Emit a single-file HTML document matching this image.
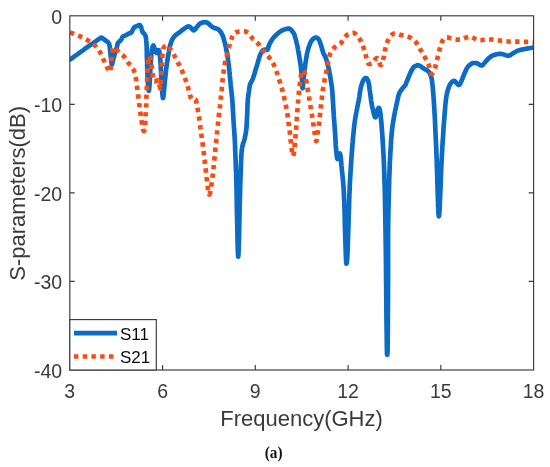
<!DOCTYPE html>
<html><head><meta charset="utf-8"><title>S-parameters</title>
<style>
html,body{margin:0;padding:0;background:#fff;}
body{width:550px;height:467px;overflow:hidden;}
svg{display:block;}
text{font-family:"Liberation Sans",Arial,sans-serif;fill:#3a3a3a;}
.tick{font-size:19.5px;}
.lab{font-size:22px;}
.leg{font-size:17px;} .leg text{fill:#0a0a0a;}
.cap{font-family:"Liberation Serif",serif;font-weight:bold;font-size:15px;fill:#111;}
</style></head><body>
<svg width="550" height="467" viewBox="0 0 550 467">
<rect width="550" height="467" fill="#fff"/>
<defs><clipPath id="c"><rect x="69.8" y="15.8" width="463.8" height="354.2"/></clipPath></defs>
<g clip-path="url(#c)" fill="none" stroke-linejoin="round">
<path d="M70.0,59.6 L71.8,58.3 L74.4,56.4 L77.3,54.4 L80.0,52.4 L82.6,50.6 L85.2,48.7 L87.7,46.9 L90.0,45.3 L92.1,43.9 L93.9,42.5 L95.6,41.4 L97.0,40.4 L98.1,39.6 L98.8,39.1 L99.4,38.7 L100.0,38.3 L100.5,38.0 L100.8,37.8 L101.2,37.6 L101.5,37.6 L101.9,37.7 L102.2,37.9 L102.6,38.2 L103.0,38.6 L103.5,39.0 L104.2,39.5 L104.8,40.0 L105.5,40.5 L106.2,41.0 L107.0,41.5 L107.7,42.0 L108.3,42.6 L108.7,43.1 L109.0,43.6 L109.2,44.2 L109.4,45.0 L109.6,46.0 L109.8,47.1 L109.9,48.5 L110.1,50.0 L110.3,51.9 L110.5,54.0 L110.7,56.1 L110.9,58.0 L111.1,59.5 L111.2,60.9 L111.4,62.1 L111.5,63.0 L111.6,63.7 L111.8,64.2 L111.9,64.4 L112.0,64.4 L112.1,64.1 L112.2,63.6 L112.4,62.9 L112.6,62.0 L112.9,60.8 L113.2,59.4 L113.6,57.9 L114.0,56.5 L114.4,55.2 L114.7,54.0 L115.1,52.7 L115.5,51.5 L115.9,50.2 L116.3,48.9 L116.7,47.6 L117.0,46.5 L117.2,45.5 L117.4,44.7 L117.6,43.9 L117.8,43.3 L118.1,42.8 L118.4,42.4 L118.7,42.1 L119.0,41.8 L119.3,41.5 L119.6,41.3 L119.9,41.1 L120.2,40.8 L120.5,40.4 L120.8,40.1 L121.1,39.6 L121.4,39.2 L121.6,38.7 L121.9,38.2 L122.1,37.7 L122.3,37.3 L122.5,37.0 L122.7,36.7 L122.9,36.5 L123.3,36.3 L123.8,36.1 L124.5,35.8 L125.2,35.6 L125.9,35.3 L126.6,34.9 L127.2,34.5 L127.9,34.1 L128.5,33.7 L129.2,33.4 L129.8,33.2 L130.5,33.1 L131.0,32.8 L131.4,32.5 L131.6,32.1 L131.8,31.7 L132.0,31.3 L132.2,31.0 L132.3,30.7 L132.5,30.3 L132.7,29.9 L133.1,29.3 L133.5,28.5 L133.9,27.8 L134.3,27.3 L134.6,27.0 L134.8,26.9 L135.0,26.8 L135.3,26.7 L135.6,26.6 L136.0,26.5 L136.4,26.4 L136.8,26.3 L137.1,26.1 L137.4,26.0 L137.7,25.8 L138.0,25.6 L138.3,25.4 L138.7,25.2 L139.1,25.0 L139.4,25.0 L139.7,25.1 L139.9,25.2 L140.2,25.5 L140.4,25.8 L140.6,26.1 L140.9,26.5 L141.1,27.0 L141.3,27.6 L141.5,28.5 L141.8,29.6 L142.1,30.7 L142.3,31.5 L142.5,32.0 L142.7,32.3 L142.9,32.5 L143.2,32.8 L143.5,33.1 L143.9,33.4 L144.2,33.7 L144.5,34.0 L144.7,34.3 L144.9,34.7 L145.1,35.0 L145.3,35.5 L145.5,36.0 L145.6,36.5 L145.8,37.1 L145.9,38.0 L146.1,39.2 L146.2,40.7 L146.4,42.3 L146.5,44.0 L146.6,45.5 L146.7,47.0 L146.7,49.0 L146.8,52.0 L146.9,56.7 L147.1,62.6 L147.2,68.7 L147.4,74.0 L147.6,78.3 L147.9,82.2 L148.1,85.5 L148.3,88.0 L148.5,89.6 L148.6,90.5 L148.8,90.8 L148.9,90.5 L149.1,89.8 L149.2,88.5 L149.4,86.6 L149.6,84.0 L149.8,80.2 L150.1,75.5 L150.3,70.5 L150.6,66.0 L150.8,62.0 L151.1,58.3 L151.3,54.9 L151.6,52.0 L151.9,49.7 L152.3,47.8 L152.7,46.4 L153.0,45.6 L153.3,45.4 L153.6,45.9 L153.9,46.7 L154.2,47.5 L154.5,48.4 L154.9,49.5 L155.2,50.6 L155.6,51.5 L155.9,52.2 L156.3,52.7 L156.7,53.0 L157.0,53.0 L157.4,52.4 L157.7,51.5 L158.1,50.5 L158.4,50.0 L158.7,50.0 L158.9,50.3 L159.2,51.0 L159.4,52.0 L159.6,53.3 L159.8,55.0 L160.1,57.2 L160.3,60.0 L160.6,63.8 L160.8,68.5 L161.1,73.4 L161.4,78.0 L161.7,82.4 L161.9,86.9 L162.2,90.9 L162.4,94.0 L162.6,96.1 L162.8,97.5 L162.9,98.2 L163.1,98.2 L163.3,97.5 L163.5,96.1 L163.7,94.2 L163.9,92.0 L164.1,89.4 L164.4,86.4 L164.7,83.1 L165.0,80.0 L165.3,76.9 L165.7,73.7 L166.0,70.6 L166.3,68.0 L166.6,65.9 L166.8,64.2 L167.0,62.7 L167.3,61.0 L167.6,59.2 L167.9,57.4 L168.2,55.5 L168.5,53.6 L168.9,51.6 L169.2,49.5 L169.6,47.4 L170.1,45.5 L170.7,43.7 L171.3,41.9 L171.9,40.3 L172.6,38.9 L173.3,37.8 L174.0,36.8 L174.7,36.0 L175.5,35.2 L176.4,34.4 L177.4,33.8 L178.5,33.1 L179.5,32.4 L180.5,31.6 L181.5,30.7 L182.6,29.9 L183.6,29.1 L184.7,28.4 L185.8,27.6 L186.8,27.0 L187.7,26.6 L188.3,26.4 L188.8,26.4 L189.1,26.5 L189.5,26.7 L189.9,26.9 L190.2,27.2 L190.6,27.5 L191.0,27.9 L191.6,28.5 L192.3,29.2 L192.9,29.9 L193.5,30.3 L193.9,30.4 L194.2,30.2 L194.5,29.9 L194.8,29.6 L195.1,29.4 L195.3,29.1 L195.5,28.8 L195.9,28.3 L196.4,27.6 L197.1,26.8 L197.8,25.9 L198.4,25.2 L198.8,24.7 L199.2,24.3 L199.5,23.9 L200.0,23.6 L200.6,23.2 L201.4,22.9 L202.2,22.6 L203.0,22.4 L203.8,22.3 L204.6,22.2 L205.4,22.2 L206.1,22.3 L206.8,22.5 L207.4,22.8 L207.9,23.1 L208.5,23.5 L209.0,24.0 L209.5,24.5 L210.0,25.0 L210.5,25.5 L211.0,25.9 L211.5,26.3 L212.0,26.7 L212.5,27.0 L213.0,27.3 L213.4,27.6 L213.9,27.8 L214.4,28.0 L214.9,28.2 L215.5,28.3 L216.0,28.5 L216.5,28.6 L217.0,28.7 L217.4,28.9 L217.8,29.1 L218.2,29.3 L218.7,29.6 L219.1,30.1 L219.6,30.5 L220.0,31.0 L220.4,31.5 L220.7,32.0 L221.1,32.5 L221.4,33.1 L221.8,33.8 L222.1,34.5 L222.5,35.2 L222.8,36.0 L223.1,36.7 L223.3,37.5 L223.6,38.3 L223.9,39.5 L224.3,41.1 L224.8,42.9 L225.3,44.9 L225.8,47.1 L226.3,49.5 L226.8,52.0 L227.3,54.7 L227.7,57.3 L228.1,60.0 L228.4,62.7 L228.7,65.3 L229.0,67.5 L229.2,69.1 L229.3,70.1 L229.4,71.3 L229.6,73.0 L229.8,75.5 L230.1,78.4 L230.4,81.6 L230.7,85.0 L231.1,88.4 L231.5,92.0 L231.9,95.8 L232.3,100.0 L232.6,104.6 L232.9,109.7 L233.2,114.9 L233.5,120.0 L233.8,125.1 L234.2,130.3 L234.5,135.4 L234.8,140.0 L235.0,143.9 L235.1,147.2 L235.2,150.7 L235.4,155.0 L235.6,160.3 L235.8,166.2 L236.1,172.8 L236.3,180.0 L236.5,188.2 L236.7,197.2 L236.8,206.4 L237.0,215.0 L237.2,223.3 L237.4,231.5 L237.5,238.9 L237.7,245.0 L237.8,249.8 L238.0,253.5 L238.1,255.8 L238.2,256.7 L238.3,256.0 L238.5,253.8 L238.6,250.1 L238.8,245.0 L239.0,237.9 L239.2,229.0 L239.4,219.3 L239.6,210.0 L239.8,201.0 L240.1,191.8 L240.3,182.9 L240.6,175.0 L240.8,168.1 L241.1,161.8 L241.3,156.4 L241.6,152.0 L241.9,148.9 L242.3,146.9 L242.6,145.4 L243.0,144.0 L243.4,142.6 L243.8,141.6 L244.2,140.5 L244.6,139.0 L245.0,137.1 L245.4,134.9 L245.9,132.6 L246.2,130.0 L246.5,127.3 L246.7,124.5 L246.8,121.4 L247.0,118.0 L247.2,114.0 L247.4,109.5 L247.5,105.2 L247.7,101.8 L247.8,99.7 L247.9,98.5 L248.1,97.6 L248.2,96.4 L248.4,94.8 L248.6,93.2 L248.9,91.6 L249.1,90.0 L249.3,88.5 L249.5,87.1 L249.7,85.8 L250.0,84.5 L250.5,83.3 L251.1,82.3 L251.7,81.2 L252.3,80.0 L252.9,78.5 L253.4,76.9 L254.0,75.2 L254.5,73.6 L255.0,72.0 L255.4,70.5 L255.9,68.9 L256.4,67.3 L257.0,65.5 L257.5,63.5 L258.1,61.6 L258.6,60.0 L258.9,58.8 L259.1,57.9 L259.3,57.0 L259.7,56.0 L260.3,54.7 L261.0,53.3 L261.7,51.9 L262.3,50.9 L262.8,50.3 L263.2,50.1 L263.6,50.0 L264.0,49.9 L264.4,49.8 L264.7,49.7 L265.1,49.6 L265.5,49.6 L266.0,49.7 L266.5,49.8 L267.0,49.9 L267.4,49.8 L267.7,49.4 L267.9,48.8 L268.1,48.2 L268.3,47.5 L268.5,46.9 L268.6,46.2 L268.9,45.5 L269.3,44.5 L270.0,43.1 L270.9,41.5 L272.0,39.8 L273.1,38.2 L274.3,36.8 L275.6,35.5 L276.9,34.2 L278.2,33.1 L279.5,32.1 L280.8,31.3 L282.0,30.5 L283.3,29.9 L284.6,29.4 L286.0,29.0 L287.3,28.7 L288.4,28.6 L289.1,28.6 L289.7,28.8 L290.1,29.0 L290.5,29.3 L291.0,29.7 L291.4,30.1 L291.8,30.6 L292.2,31.2 L292.7,31.8 L293.1,32.4 L293.6,33.0 L294.0,33.8 L294.4,34.7 L294.7,35.6 L295.0,36.7 L295.4,38.0 L295.8,39.5 L296.3,41.3 L296.7,43.2 L297.2,45.3 L297.7,47.6 L298.1,50.1 L298.6,52.7 L299.1,55.5 L299.6,58.6 L300.1,61.9 L300.6,65.2 L301.0,68.2 L301.3,70.9 L301.5,73.5 L301.7,75.8 L301.9,78.0 L302.0,80.0 L302.1,81.9 L302.2,83.6 L302.3,85.0 L302.4,86.2 L302.4,87.2 L302.5,87.9 L302.6,88.2 L302.7,87.9 L302.8,87.2 L302.9,86.1 L303.0,85.0 L303.1,83.8 L303.2,82.5 L303.4,80.9 L303.6,79.0 L303.8,76.7 L304.1,74.0 L304.4,71.1 L304.8,68.2 L305.2,65.0 L305.7,61.6 L306.2,58.3 L306.7,55.5 L307.1,53.4 L307.5,51.8 L307.8,50.4 L308.2,49.0 L308.6,47.6 L309.0,46.3 L309.5,45.1 L309.9,44.0 L310.3,43.0 L310.7,42.2 L311.1,41.5 L311.5,40.8 L311.9,40.2 L312.3,39.7 L312.7,39.3 L313.1,38.9 L313.5,38.6 L313.9,38.3 L314.3,38.1 L314.7,37.9 L315.1,37.7 L315.5,37.6 L315.9,37.6 L316.3,37.6 L316.7,37.7 L317.2,37.9 L317.6,38.2 L318.0,38.6 L318.4,39.0 L318.7,39.4 L319.1,40.0 L319.5,40.8 L319.9,42.0 L320.4,43.4 L320.9,44.9 L321.4,46.5 L321.9,48.1 L322.3,49.7 L322.8,51.4 L323.3,52.9 L323.9,54.2 L324.6,55.4 L325.2,56.7 L325.8,58.0 L326.3,59.5 L326.8,61.0 L327.2,62.6 L327.7,64.4 L328.2,66.5 L328.7,68.8 L329.2,71.1 L329.6,73.3 L330.0,75.3 L330.3,77.1 L330.6,78.9 L330.9,80.9 L331.2,83.0 L331.6,85.2 L331.9,87.5 L332.2,90.0 L332.4,92.7 L332.6,95.7 L332.8,98.8 L333.0,102.0 L333.2,105.3 L333.4,108.8 L333.6,112.3 L333.8,116.0 L334.1,119.9 L334.4,123.9 L334.7,128.0 L335.0,132.0 L335.3,136.1 L335.5,140.3 L335.7,144.4 L336.0,148.0 L336.3,151.3 L336.6,154.3 L336.9,156.8 L337.2,158.5 L337.5,159.0 L337.8,158.6 L338.2,157.8 L338.5,157.0 L338.8,156.1 L339.2,154.9 L339.5,153.9 L339.8,153.5 L340.1,153.9 L340.3,154.9 L340.6,156.3 L340.8,158.0 L341.0,160.0 L341.2,162.5 L341.4,165.2 L341.7,168.0 L342.0,170.9 L342.3,174.1 L342.7,177.4 L343.0,181.0 L343.3,184.5 L343.6,188.0 L343.8,192.2 L344.1,198.0 L344.4,206.2 L344.7,216.1 L344.9,226.3 L345.2,235.0 L345.4,242.1 L345.6,248.5 L345.8,253.8 L346.0,258.0 L346.1,261.0 L346.2,262.8 L346.4,263.7 L346.5,263.7 L346.7,263.0 L346.9,261.6 L347.2,259.0 L347.4,255.0 L347.7,249.1 L347.9,241.5 L348.2,233.2 L348.5,225.0 L348.7,216.8 L349.0,208.3 L349.2,199.9 L349.5,192.0 L349.8,184.6 L350.2,177.5 L350.6,170.9 L351.0,165.0 L351.3,159.9 L351.6,155.6 L351.9,151.7 L352.2,148.0 L352.4,144.7 L352.7,141.9 L352.9,139.2 L353.2,136.0 L353.6,132.2 L354.0,127.9 L354.5,123.7 L355.0,120.0 L355.5,116.9 L356.0,114.1 L356.5,111.6 L357.0,109.0 L357.5,106.4 L358.0,103.9 L358.5,101.5 L359.0,99.0 L359.4,96.5 L359.7,93.9 L360.1,91.4 L360.5,89.0 L361.0,86.7 L361.7,84.6 L362.3,82.6 L363.0,81.0 L363.7,79.7 L364.5,78.8 L365.3,78.1 L366.0,78.0 L366.7,78.4 L367.3,79.2 L367.9,80.4 L368.4,82.0 L368.9,84.1 L369.3,86.6 L369.6,89.3 L370.0,92.0 L370.4,94.8 L370.8,97.7 L371.1,100.5 L371.5,103.0 L371.9,105.1 L372.2,106.8 L372.6,108.4 L373.0,110.0 L373.4,111.7 L373.8,113.4 L374.1,114.9 L374.5,116.0 L374.8,116.7 L375.2,117.2 L375.5,117.3 L375.8,117.0 L376.1,116.1 L376.4,114.8 L376.7,113.3 L377.0,112.0 L377.4,110.8 L377.7,109.6 L378.1,108.6 L378.5,108.0 L378.8,107.9 L379.2,108.2 L379.5,108.9 L379.8,110.0 L380.1,111.5 L380.4,113.4 L380.7,115.9 L381.0,119.0 L381.4,122.8 L381.7,127.3 L382.1,132.4 L382.5,138.0 L382.9,144.2 L383.3,151.1 L383.7,158.4 L384.0,166.0 L384.3,173.7 L384.5,181.6 L384.8,190.2 L385.0,200.0 L385.2,211.1 L385.4,223.4 L385.6,236.4 L385.8,250.0 L386.0,264.8 L386.1,280.6 L386.3,296.2 L386.4,310.0 L386.5,322.2 L386.7,333.5 L386.8,343.0 L386.9,350.0 L387.0,353.8 L387.1,354.9 L387.1,354.6 L387.2,354.1 L387.3,354.3 L387.4,354.3 L387.5,352.7 L387.6,348.0 L387.7,338.8 L387.8,326.1 L387.9,312.4 L388.0,300.0 L388.0,289.3 L388.1,279.2 L388.1,269.5 L388.1,260.0 L388.1,251.0 L388.1,242.4 L388.1,233.7 L388.2,224.0 L388.4,212.5 L388.7,199.8 L389.0,187.5 L389.3,177.0 L389.6,169.1 L389.8,162.9 L390.1,157.5 L390.4,152.0 L390.8,146.1 L391.1,140.2 L391.6,134.8 L392.0,130.0 L392.5,126.0 L393.0,122.8 L393.5,119.8 L394.0,117.0 L394.5,114.2 L395.0,111.6 L395.5,109.2 L396.0,107.0 L396.4,105.0 L396.8,103.2 L397.1,101.6 L397.5,100.0 L397.8,98.4 L398.2,96.9 L398.5,95.4 L399.0,94.0 L399.6,92.6 L400.4,91.3 L401.2,90.1 L402.0,89.0 L402.8,88.0 L403.6,87.2 L404.3,86.4 L405.0,85.5 L405.6,84.5 L406.1,83.3 L406.5,82.2 L407.0,81.0 L407.5,79.9 L407.9,78.7 L408.4,77.5 L409.0,76.0 L409.9,74.1 L410.9,71.8 L412.0,69.7 L413.0,68.0 L413.8,67.0 L414.6,66.4 L415.3,66.1 L416.0,65.8 L416.6,65.5 L417.0,65.3 L417.5,65.2 L418.0,65.2 L418.6,65.3 L419.2,65.6 L419.9,65.9 L420.5,66.2 L421.1,66.6 L421.7,67.1 L422.3,67.5 L423.0,68.0 L423.7,68.5 L424.5,68.9 L425.3,69.4 L426.0,69.8 L426.7,70.2 L427.3,70.5 L427.9,71.0 L428.5,71.5 L429.0,72.2 L429.6,73.0 L430.0,73.9 L430.5,75.0 L430.9,76.2 L431.3,77.4 L431.7,78.9 L432.0,81.0 L432.3,83.6 L432.7,86.8 L433.0,90.2 L433.3,94.0 L433.6,98.0 L433.9,102.4 L434.2,107.0 L434.5,112.0 L434.8,117.4 L435.1,123.1 L435.3,129.0 L435.6,135.0 L435.9,141.0 L436.2,147.1 L436.4,153.4 L436.7,160.0 L436.9,167.4 L437.2,175.3 L437.4,183.1 L437.6,190.0 L437.8,196.0 L438.0,201.5 L438.1,206.2 L438.3,210.0 L438.4,212.8 L438.6,214.7 L438.7,215.8 L438.8,216.3 L438.9,216.3 L439.1,215.8 L439.2,214.4 L439.4,212.0 L439.6,208.3 L439.8,203.4 L440.1,197.9 L440.3,192.0 L440.6,185.7 L440.8,178.8 L441.1,171.8 L441.4,165.0 L441.7,158.5 L442.1,152.2 L442.4,146.0 L442.8,140.0 L443.2,134.2 L443.5,128.5 L443.9,123.1 L444.3,118.0 L444.7,113.2 L445.1,108.7 L445.4,104.6 L445.8,101.0 L446.1,98.2 L446.5,95.9 L446.8,94.0 L447.3,92.0 L447.9,89.9 L448.6,87.9 L449.3,86.0 L450.0,84.5 L450.7,83.4 L451.3,82.6 L451.9,82.0 L452.5,81.5 L453.0,81.1 L453.5,80.9 L454.0,80.9 L454.5,81.0 L455.1,81.4 L455.8,82.1 L456.4,82.9 L457.0,83.5 L457.5,84.1 L458.0,84.6 L458.5,85.0 L459.0,85.0 L459.5,84.6 L460.0,83.9 L460.5,83.0 L461.0,82.0 L461.5,81.0 L461.9,79.9 L462.4,78.6 L463.0,77.0 L463.9,74.9 L464.9,72.4 L466.0,70.0 L467.0,68.0 L468.0,66.6 L469.1,65.5 L470.1,64.7 L471.0,64.0 L471.8,63.5 L472.6,63.2 L473.3,63.1 L474.0,63.0 L474.8,63.0 L475.5,63.0 L476.2,63.1 L477.0,63.3 L477.8,63.7 L478.6,64.1 L479.3,64.6 L480.0,65.0 L480.6,65.2 L481.1,65.4 L481.5,65.5 L482.0,65.4 L482.5,65.1 L482.9,64.8 L483.4,64.2 L484.0,63.5 L484.9,62.5 L485.9,61.3 L487.0,60.0 L488.0,59.0 L488.8,58.2 L489.6,57.6 L490.3,57.0 L491.0,56.5 L491.7,56.0 L492.4,55.7 L493.2,55.3 L494.0,55.0 L494.9,54.7 L495.9,54.4 L497.0,54.2 L498.0,54.0 L499.0,53.9 L500.0,53.9 L501.0,53.9 L502.0,54.0 L503.0,54.3 L504.1,54.6 L505.1,55.0 L506.0,55.3 L506.8,55.5 L507.6,55.6 L508.3,55.7 L509.0,55.6 L509.7,55.4 L510.4,55.0 L511.1,54.5 L512.0,54.0 L513.1,53.3 L514.4,52.5 L515.8,51.7 L517.0,51.0 L518.1,50.6 L519.1,50.3 L520.0,50.0 L521.0,49.8 L522.0,49.6 L523.0,49.4 L524.0,49.2 L525.0,49.0 L526.0,48.8 L526.9,48.6 L527.9,48.4 L529.0,48.2 L530.3,48.0 L531.8,47.8 L533.1,47.5 L534.0,47.4" stroke="#0c6cc5" stroke-width="4.7" stroke-linecap="round"/>
<path d="M70.0,32.3 L71.4,32.9 L73.5,33.7 L75.8,34.6 L78.0,35.5 L80.1,36.4 L82.2,37.5 L84.2,38.5 L86.0,39.4 L87.5,40.2 L88.8,40.9 L89.9,41.6 L91.0,42.3 L92.1,43.1 L93.1,43.9 L94.1,44.7 L95.0,45.5 L95.8,46.3 L96.6,47.2 L97.3,48.1 L98.0,49.0 L98.7,49.9 L99.3,50.9 L99.9,51.9 L100.5,53.0 L101.1,54.3 L101.8,55.7 L102.4,57.1 L103.0,58.5 L103.6,59.9 L104.3,61.3 L104.9,62.7 L105.5,64.0 L106.1,65.2 L106.6,66.4 L107.1,67.5 L107.6,68.5 L108.1,69.6 L108.5,70.7 L108.9,71.5 L109.3,72.0 L109.6,71.9 L109.9,71.5 L110.1,70.8 L110.3,70.0 L110.5,69.2 L110.6,68.3 L110.8,67.3 L110.9,66.0 L111.1,64.5 L111.2,62.7 L111.4,60.8 L111.6,59.0 L111.8,57.2 L112.0,55.4 L112.2,53.6 L112.4,52.0 L112.6,50.5 L112.9,49.1 L113.2,48.0 L113.5,47.3 L113.9,47.1 L114.3,47.4 L114.9,47.9 L115.5,48.5 L116.3,49.3 L117.2,50.3 L118.2,51.4 L119.3,52.5 L120.4,53.4 L121.6,54.4 L122.8,55.3 L124.0,56.5 L125.1,58.0 L126.2,59.6 L127.3,61.3 L128.3,62.8 L129.2,64.0 L130.0,65.0 L130.8,66.0 L131.5,67.0 L132.2,68.0 L132.9,68.9 L133.5,69.9 L134.0,71.0 L134.5,72.3 L134.9,73.6 L135.2,75.2 L135.6,77.0 L136.0,79.2 L136.3,81.7 L136.6,84.3 L137.0,87.0 L137.4,89.7 L137.7,92.4 L138.1,95.2 L138.5,98.0 L138.9,101.0 L139.2,104.0 L139.6,107.0 L140.0,110.0 L140.4,112.9 L140.8,115.8 L141.1,118.5 L141.5,121.0 L141.9,123.4 L142.3,125.6 L142.7,127.5 L143.0,129.0 L143.3,130.1 L143.5,130.8 L143.8,131.1 L144.0,131.0 L144.3,130.5 L144.5,129.5 L144.8,128.0 L145.0,126.0 L145.2,123.2 L145.4,119.8 L145.6,115.9 L145.8,112.0 L146.0,108.0 L146.2,103.7 L146.3,99.3 L146.5,95.0 L146.7,90.7 L146.8,86.3 L147.0,82.0 L147.2,78.0 L147.4,74.1 L147.6,70.4 L147.8,67.0 L148.0,64.0 L148.2,61.5 L148.5,59.3 L148.7,57.7 L149.0,56.5 L149.2,55.9 L149.5,55.9 L149.7,56.3 L150.0,57.0 L150.3,58.0 L150.6,59.5 L150.9,61.2 L151.2,63.0 L151.5,65.1 L151.8,67.4 L152.1,69.8 L152.4,72.0 L152.6,74.2 L152.8,76.5 L153.1,78.5 L153.3,80.0 L153.5,80.9 L153.8,81.3 L154.1,81.5 L154.5,81.5 L155.0,81.4 L155.7,81.1 L156.4,80.7 L157.0,80.5 L157.6,80.4 L158.1,80.3 L158.6,80.5 L159.0,81.0 L159.3,82.2 L159.5,84.0 L159.6,85.7 L159.8,87.0 L160.0,87.8 L160.1,88.4 L160.3,88.5 L160.4,88.0 L160.5,86.7 L160.7,84.8 L160.8,82.5 L161.0,80.0 L161.2,77.3 L161.3,74.2 L161.5,71.1 L161.7,68.0 L161.8,64.9 L162.0,61.7 L162.1,58.7 L162.3,56.0 L162.5,53.7 L162.7,51.7 L163.0,49.9 L163.3,48.5 L163.8,47.4 L164.3,46.7 L164.9,46.2 L165.5,45.8 L166.1,45.5 L166.7,45.3 L167.4,45.3 L168.0,45.6 L168.6,46.2 L169.2,47.0 L169.9,48.0 L170.5,49.0 L171.1,49.9 L171.7,50.7 L172.3,51.7 L173.0,53.0 L173.9,54.7 L174.9,56.8 L176.0,58.9 L177.0,61.0 L178.0,62.9 L179.1,64.8 L180.1,66.7 L181.0,68.5 L181.8,70.3 L182.5,72.0 L183.2,73.7 L183.9,75.5 L184.6,77.5 L185.4,79.5 L186.1,81.6 L186.8,83.6 L187.5,85.7 L188.1,87.8 L188.7,89.9 L189.2,91.6 L189.6,93.0 L189.9,94.1 L190.1,95.1 L190.4,96.0 L190.6,96.9 L190.8,97.6 L191.0,98.3 L191.3,98.8 L191.8,99.2 L192.3,99.5 L192.9,99.7 L193.5,99.8 L194.1,99.8 L194.6,99.6 L195.2,99.5 L195.6,99.6 L195.9,100.1 L196.1,100.7 L196.2,101.5 L196.4,102.5 L196.6,103.5 L196.8,104.7 L197.0,106.0 L197.3,107.6 L197.7,109.5 L198.1,111.7 L198.5,114.0 L198.9,116.2 L199.2,118.2 L199.4,120.3 L199.7,122.2 L199.9,124.2 L200.2,126.1 L200.4,128.0 L200.7,130.0 L201.0,132.0 L201.3,134.0 L201.6,136.1 L201.9,138.4 L202.3,141.0 L202.7,144.2 L203.1,147.8 L203.6,151.5 L204.0,155.0 L204.4,158.3 L204.8,161.6 L205.1,164.8 L205.5,168.0 L205.9,171.3 L206.3,174.7 L206.6,178.0 L207.0,181.0 L207.3,183.7 L207.7,186.3 L208.0,188.6 L208.3,190.5 L208.6,192.1 L208.8,193.4 L209.0,194.3 L209.3,194.6 L209.6,194.3 L209.9,193.4 L210.2,192.1 L210.5,190.5 L210.9,188.5 L211.2,186.2 L211.6,183.6 L212.0,181.0 L212.3,178.4 L212.7,175.7 L213.0,172.9 L213.3,170.0 L213.6,166.9 L213.9,163.7 L214.3,160.4 L214.6,157.0 L214.9,153.6 L215.3,150.1 L215.6,146.5 L216.0,143.0 L216.3,139.5 L216.7,135.9 L217.1,132.4 L217.4,129.0 L217.8,125.7 L218.1,122.4 L218.5,119.2 L218.8,116.0 L219.2,112.9 L219.5,109.9 L219.9,107.0 L220.2,104.0 L220.5,101.0 L220.8,97.9 L221.1,94.9 L221.4,92.0 L221.7,89.3 L221.9,86.8 L222.2,84.3 L222.4,82.0 L222.6,79.8 L222.9,77.6 L223.1,75.6 L223.4,73.5 L223.6,71.5 L223.9,69.5 L224.2,67.5 L224.5,65.5 L224.9,63.5 L225.4,61.4 L226.0,59.4 L226.5,57.3 L227.0,55.2 L227.4,53.2 L227.9,51.1 L228.4,49.0 L229.0,46.8 L229.7,44.6 L230.3,42.5 L230.9,40.7 L231.4,39.2 L231.8,38.0 L232.1,37.0 L232.5,36.0 L232.9,35.2 L233.2,34.4 L233.6,33.8 L234.1,33.3 L234.7,32.9 L235.4,32.5 L236.2,32.2 L237.0,32.0 L237.8,31.8 L238.7,31.6 L239.6,31.5 L240.5,31.4 L241.4,31.3 L242.3,31.3 L243.2,31.3 L244.0,31.3 L244.7,31.4 L245.3,31.4 L245.9,31.6 L246.5,31.9 L247.2,32.4 L248.0,33.0 L248.8,33.7 L249.5,34.5 L250.1,35.3 L250.8,36.2 L251.4,37.2 L252.0,38.0 L252.7,38.7 L253.5,39.4 L254.2,40.0 L255.0,40.7 L255.8,41.4 L256.5,42.0 L257.2,42.7 L258.0,43.5 L258.8,44.5 L259.5,45.7 L260.2,46.9 L261.0,48.0 L261.7,48.9 L262.4,49.8 L263.2,50.6 L264.0,51.5 L265.0,52.6 L266.0,53.7 L267.0,54.9 L268.0,56.0 L268.8,57.0 L269.6,58.0 L270.3,59.0 L271.0,60.0 L271.7,61.0 L272.3,61.9 L272.9,62.9 L273.5,64.0 L274.1,65.3 L274.7,66.7 L275.3,68.2 L276.0,70.0 L276.7,72.1 L277.5,74.3 L278.3,76.7 L279.0,79.0 L279.7,81.2 L280.3,83.3 L281.0,85.4 L281.6,87.5 L282.2,89.6 L282.8,91.8 L283.3,93.9 L283.8,96.0 L284.3,98.0 L284.7,100.0 L285.2,101.9 L285.6,104.0 L286.0,106.2 L286.4,108.4 L286.8,110.7 L287.2,113.0 L287.6,115.4 L287.9,117.9 L288.3,120.4 L288.6,123.0 L289.0,125.7 L289.3,128.4 L289.7,131.2 L290.0,134.0 L290.3,136.8 L290.6,139.7 L290.9,142.5 L291.2,145.0 L291.5,147.3 L291.8,149.5 L292.0,151.4 L292.3,153.0 L292.5,154.3 L292.8,155.4 L293.0,156.0 L293.2,156.0 L293.4,155.2 L293.7,153.8 L293.9,152.0 L294.2,150.0 L294.5,147.8 L294.7,145.2 L295.0,142.6 L295.2,140.0 L295.4,137.5 L295.6,135.1 L295.8,132.6 L296.0,130.0 L296.2,127.3 L296.4,124.6 L296.6,121.8 L296.8,119.0 L297.0,116.2 L297.2,113.5 L297.4,110.8 L297.6,108.0 L297.8,105.2 L298.0,102.4 L298.3,99.7 L298.5,97.0 L298.7,94.4 L299.0,91.9 L299.2,89.4 L299.5,87.0 L299.8,84.6 L300.0,82.3 L300.3,80.1 L300.6,78.0 L300.9,75.9 L301.3,73.9 L301.6,72.2 L302.0,71.0 L302.4,70.4 L302.7,70.3 L303.1,70.6 L303.5,71.0 L303.9,71.5 L304.2,72.3 L304.6,73.3 L305.0,74.5 L305.4,76.1 L305.8,77.9 L306.1,79.9 L306.5,82.0 L306.9,84.1 L307.2,86.4 L307.6,88.7 L308.0,91.0 L308.4,93.2 L308.8,95.5 L309.1,97.8 L309.5,100.0 L309.9,102.2 L310.3,104.5 L310.6,106.8 L311.0,109.0 L311.4,111.2 L311.7,113.5 L312.1,115.8 L312.4,118.0 L312.8,120.3 L313.1,122.6 L313.5,124.8 L313.8,127.0 L314.1,129.1 L314.4,131.2 L314.7,133.2 L315.0,135.0 L315.3,136.8 L315.5,138.6 L315.8,140.1 L316.0,141.0 L316.2,141.2 L316.4,140.9 L316.7,140.1 L316.9,139.0 L317.2,137.4 L317.4,135.4 L317.7,133.2 L318.0,131.0 L318.3,128.8 L318.6,126.6 L318.9,124.3 L319.2,122.0 L319.5,119.6 L319.8,117.1 L320.0,114.5 L320.3,112.0 L320.6,109.5 L320.8,107.0 L321.1,104.5 L321.4,102.0 L321.7,99.5 L322.0,96.9 L322.3,94.4 L322.6,92.0 L322.9,89.7 L323.3,87.4 L323.6,85.2 L324.0,83.0 L324.4,80.9 L324.8,78.9 L325.3,77.0 L325.7,75.0 L326.1,73.0 L326.5,71.1 L326.9,69.1 L327.3,67.0 L327.7,64.8 L328.1,62.4 L328.6,60.1 L329.0,58.0 L329.5,56.2 L329.9,54.7 L330.4,53.3 L331.0,52.0 L331.7,50.8 L332.4,49.8 L333.2,48.9 L334.0,48.0 L334.8,47.2 L335.7,46.5 L336.6,45.9 L337.5,45.3 L338.4,44.7 L339.3,44.3 L340.2,43.7 L341.0,43.0 L341.8,42.0 L342.5,40.8 L343.3,39.6 L344.0,38.5 L344.7,37.5 L345.5,36.6 L346.2,35.7 L347.0,35.0 L347.8,34.4 L348.7,34.0 L349.6,33.6 L350.5,33.3 L351.4,33.1 L352.3,32.9 L353.2,32.8 L354.0,33.0 L354.8,33.4 L355.5,34.0 L356.3,34.7 L357.0,35.5 L357.8,36.4 L358.5,37.4 L359.3,38.5 L360.0,39.6 L360.7,40.7 L361.3,41.9 L361.9,43.1 L362.5,44.5 L363.0,46.0 L363.5,47.6 L364.0,49.3 L364.5,51.0 L365.0,52.8 L365.5,54.6 L366.0,56.4 L366.5,58.0 L366.9,59.5 L367.2,60.9 L367.6,62.1 L368.0,63.0 L368.4,63.6 L368.9,63.9 L369.4,64.0 L370.0,64.0 L370.7,63.8 L371.5,63.5 L372.3,63.1 L373.0,62.5 L373.7,61.7 L374.3,60.7 L374.9,59.7 L375.5,59.0 L376.0,58.5 L376.5,58.2 L376.9,58.1 L377.3,58.3 L377.7,58.9 L378.2,59.9 L378.6,61.0 L379.0,62.0 L379.4,62.9 L379.8,63.8 L380.1,64.6 L380.5,65.0 L380.9,65.1 L381.2,64.8 L381.6,64.3 L382.0,63.6 L382.4,62.6 L382.8,61.2 L383.1,59.7 L383.5,58.0 L383.9,56.1 L384.2,54.0 L384.6,51.9 L385.0,50.0 L385.4,48.3 L385.7,46.8 L386.1,45.3 L386.5,44.0 L387.0,42.8 L387.4,41.6 L388.0,40.6 L388.5,39.5 L389.1,38.4 L389.7,37.3 L390.3,36.3 L391.0,35.5 L391.7,34.8 L392.4,34.3 L393.2,33.9 L394.0,33.6 L394.9,33.6 L395.9,33.7 L397.0,34.0 L398.0,34.2 L399.0,34.4 L400.0,34.7 L401.0,34.9 L402.0,35.2 L403.0,35.4 L404.0,35.7 L405.0,35.9 L406.0,36.2 L407.0,36.5 L408.0,36.8 L409.0,37.1 L410.0,37.5 L410.9,38.0 L411.8,38.6 L412.7,39.3 L413.5,40.0 L414.3,40.7 L415.0,41.3 L415.8,42.1 L416.5,43.0 L417.2,44.1 L418.0,45.4 L418.8,46.7 L419.5,48.0 L420.2,49.2 L421.0,50.5 L421.8,51.7 L422.5,53.0 L423.2,54.3 L424.0,55.7 L424.8,57.1 L425.5,58.5 L426.3,60.0 L427.1,61.4 L427.8,63.0 L428.5,64.5 L429.1,66.2 L429.6,67.9 L430.1,69.6 L430.5,71.0 L430.8,72.1 L431.0,73.0 L431.2,73.6 L431.5,74.0 L431.8,74.0 L432.2,73.7 L432.6,73.2 L433.0,72.5 L433.5,71.7 L434.0,70.7 L434.5,69.4 L435.0,68.0 L435.5,66.2 L436.0,64.2 L436.5,62.1 L437.0,60.0 L437.5,58.0 L438.0,56.0 L438.5,54.0 L439.0,52.0 L439.5,50.0 L440.0,48.0 L440.5,46.2 L441.0,44.5 L441.5,43.1 L442.0,41.9 L442.5,40.9 L443.0,40.0 L443.6,39.2 L444.2,38.4 L444.9,37.9 L445.6,37.5 L446.4,37.4 L447.2,37.4 L448.1,37.6 L449.0,37.8 L450.0,38.1 L451.0,38.4 L452.0,38.7 L453.0,39.0 L454.0,39.2 L455.0,39.4 L456.0,39.5 L457.0,39.6 L458.0,39.7 L459.0,39.7 L460.0,39.7 L461.0,39.6 L462.0,39.3 L463.0,38.9 L464.0,38.4 L465.0,38.0 L466.1,37.6 L467.3,37.1 L468.5,36.7 L469.6,36.6 L470.6,36.7 L471.6,37.1 L472.5,37.5 L473.5,38.0 L474.5,38.5 L475.5,39.1 L476.5,39.6 L477.6,40.0 L478.7,40.2 L479.8,40.1 L480.9,40.1 L482.0,40.0 L483.0,39.9 L484.0,39.8 L485.0,39.7 L486.0,39.6 L487.0,39.5 L488.0,39.5 L489.0,39.5 L490.0,39.5 L491.0,39.5 L491.9,39.5 L492.9,39.6 L494.0,39.7 L495.2,39.9 L496.5,40.1 L497.8,40.3 L499.0,40.5 L500.1,40.6 L501.1,40.8 L502.0,40.9 L503.0,41.0 L504.0,41.1 L505.0,41.2 L506.0,41.3 L507.0,41.4 L508.0,41.5 L508.9,41.5 L509.9,41.6 L511.0,41.6 L512.2,41.6 L513.5,41.6 L514.8,41.6 L516.0,41.6 L517.0,41.6 L518.0,41.6 L519.0,41.7 L520.0,41.7 L521.2,41.7 L522.5,41.8 L523.8,41.9 L525.0,41.9 L526.0,41.9 L527.0,41.9 L528.0,42.0 L529.0,42.0 L530.3,42.0 L531.8,42.1 L533.1,42.2 L534.0,42.2" stroke="#fd4b0f" stroke-width="4.7" stroke-dasharray="4.4 4.33"/>
</g>
<g stroke="#3a3a3a" stroke-width="1.15" fill="none">
<rect x="69.8" y="15.8" width="463.8" height="354.2"/>
<path d="M162.6,370.0 v-4.9 M162.6,15.8 v4.9"/><path d="M255.3,370.0 v-4.9 M255.3,15.8 v4.9"/><path d="M348.1,370.0 v-4.9 M348.1,15.8 v4.9"/><path d="M440.8,370.0 v-4.9 M440.8,15.8 v4.9"/><path d="M69.8,104.3 h4.9 M533.6,104.3 h-4.9"/><path d="M69.8,192.9 h4.9 M533.6,192.9 h-4.9"/><path d="M69.8,281.4 h4.9 M533.6,281.4 h-4.9"/>
</g>
<rect x="69.8" y="319.6" width="86.5" height="50.4" fill="#fff" stroke="#3a3a3a" stroke-width="1.15"/>
<path d="M74,333.2 H117" stroke="#0c6cc5" stroke-width="4.7"/>
<path d="M74,356.5 H117" stroke="#fd4b0f" stroke-width="4.7" stroke-dasharray="4.4 4.33"/>
<g class="leg"><text x="120" y="339.5">S11</text><text x="120" y="363">S21</text></g>
<g class="tick"><text x="69.8" y="397.7" text-anchor="middle">3</text><text x="162.6" y="397.7" text-anchor="middle">6</text><text x="255.3" y="397.7" text-anchor="middle">9</text><text x="348.1" y="397.7" text-anchor="middle">12</text><text x="440.8" y="397.7" text-anchor="middle">15</text><text x="533.6" y="397.7" text-anchor="middle">18</text><text x="62.1" y="23.6" text-anchor="end">0</text><text x="62.1" y="112.1" text-anchor="end">-10</text><text x="62.1" y="200.7" text-anchor="end">-20</text><text x="62.1" y="289.2" text-anchor="end">-30</text><text x="62.1" y="377.8" text-anchor="end">-40</text></g>
<text class="lab" x="301.5" y="426" text-anchor="middle">Frequency(GHz)</text>
<text class="lab" transform="translate(25,193.3) rotate(-90)" text-anchor="middle">S-parameters(dB)</text>
<text class="cap" transform="translate(273.6,457.9) scale(1.02,1.1)" text-anchor="middle">(a)</text>
</svg>
</body></html>
